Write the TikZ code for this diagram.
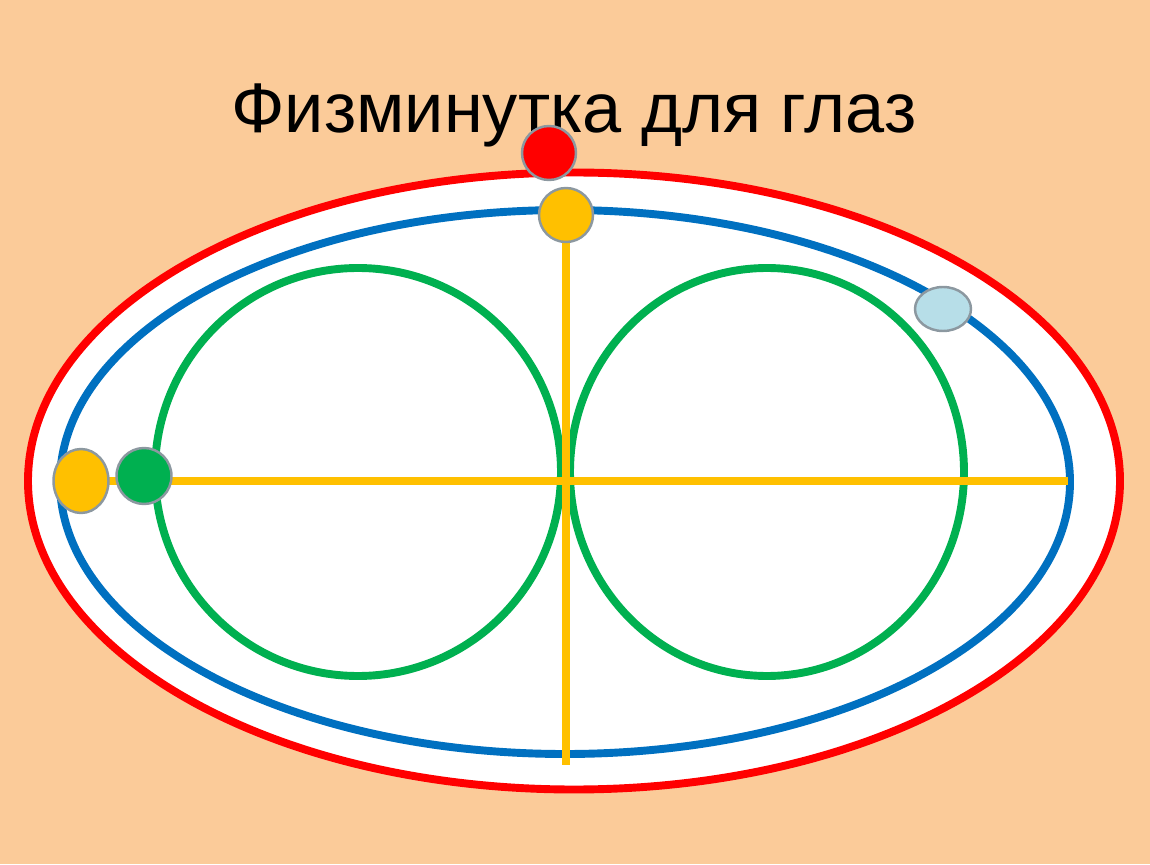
\documentclass[tikz,border=0pt]{standalone}
\usepackage{fontspec}
\setmainfont{Liberation Sans}
\usetikzlibrary{shapes.geometric}
\definecolor{peach}{RGB}{251,203,153}
\definecolor{ringred}{RGB}{255,0,0}
\definecolor{ringblue}{RGB}{0,112,192}
\definecolor{ringgreen}{RGB}{0,176,80}
\definecolor{axisyellow}{RGB}{255,192,0}
\definecolor{dotblue}{RGB}{183,222,232}
\definecolor{dotrim}{RGB}{140,152,160}
\tikzset{
  ring/.style={line width=4.5pt},
  dot/.style={ellipse,draw=dotrim,line width=1.4pt,inner sep=0pt,minimum width=1.08cm,minimum height=1.08cm},
}
\begin{document}
\begin{tikzpicture}
\useasboundingbox (0,0) rectangle (23,17.28);
\fill[peach] (0,0) rectangle (23,17.28);
\node[font=\fontsize{40}{46}\selectfont,anchor=base] (title) at (11.48,14.62) {Физминутка для глаз};

\draw[ring,draw=ringred,fill=white] (11.48,7.66) ellipse [x radius=10.92, y radius=6.17];
\draw[ring,draw=ringblue] (11.30,7.64) ellipse [x radius=10.10, y radius=5.44];
\draw[ring,draw=ringgreen] (7.16,7.84) ellipse [x radius=4.06, y radius=4.08];
\draw[ring,draw=ringgreen] (15.34,7.84) ellipse [x radius=3.94, y radius=4.08];

% axes
\coordinate (left) at (1.62,7.66);
\coordinate (right) at (21.36,7.66);
\coordinate (top) at (11.32,12.98);
\coordinate (bottom) at (11.32,1.98);
\draw[ring,draw=axisyellow] (left) -- (right);
\draw[ring,draw=axisyellow] (top) -- (bottom);

% dots
\node[dot,fill=ringred] (redDot) at (10.98,14.22) {};
\node[dot,fill=axisyellow] (topDot) at (top) {};
\node[dot,fill=axisyellow,minimum width=1.10cm,minimum height=1.28cm] (leftDot) at (left) {};
\node[dot,fill=ringgreen,minimum width=1.10cm,minimum height=1.12cm] (greenDot) at (2.88,7.76) {};
\node[dot,fill=dotblue,minimum width=1.12cm,minimum height=0.88cm] (blueDot) at (18.86,11.10) {};
\end{tikzpicture}
\end{document}
